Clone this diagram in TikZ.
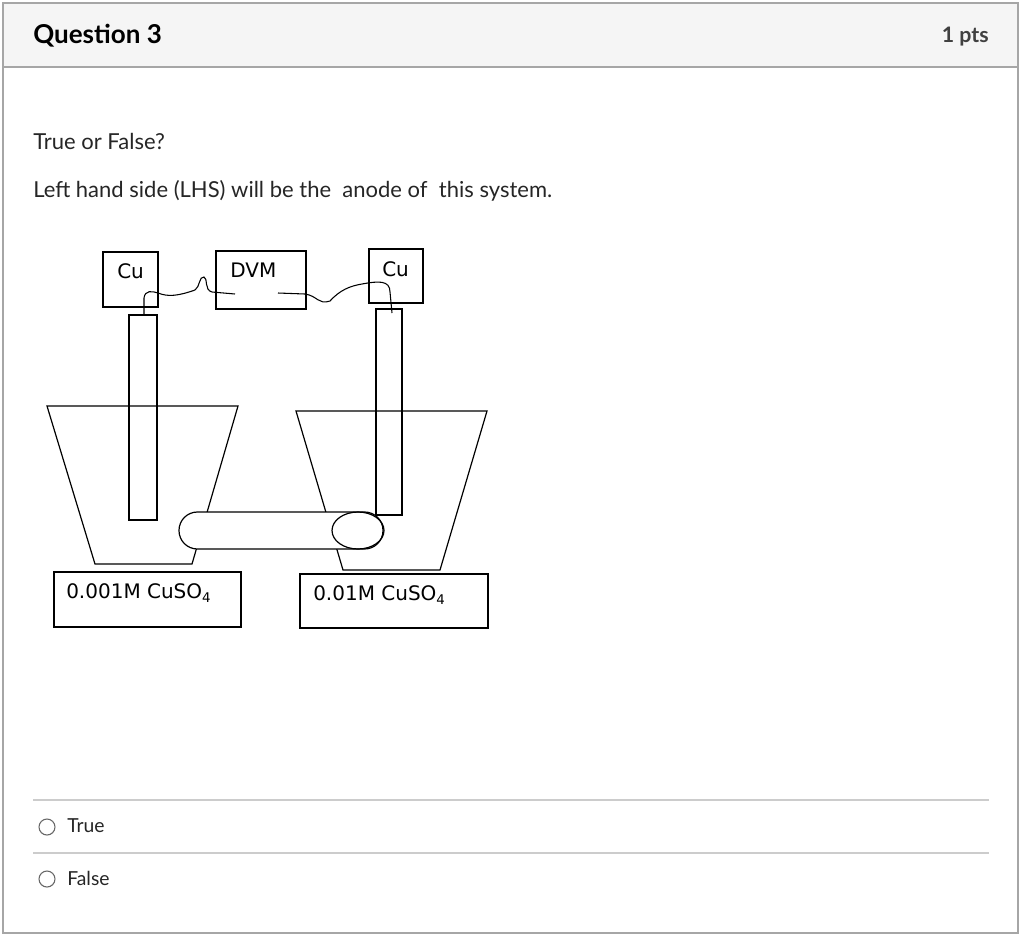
\documentclass[tikz,border=0pt]{standalone}
\usepackage{fontspec}
\setmainfont{Lato}
\newfontfamily\comic{DejaVu Sans}
\newcommand{\subfour}{\raisebox{-0.35ex}{\fontsize{10}{11}\selectfont 4}}
\begin{document}
\begin{tikzpicture}[x=0.75pt,y=-0.75pt,
  ln/.style={draw=black,line width=0.9pt},
  lbl/.style={font=\comic\fontsize{15}{17}\selectfont,anchor=west,inner sep=0},
  body/.style={font=\fontsize{16.5}{19}\selectfont,anchor=west,inner sep=0,text=black!85}]
\useasboundingbox (0,0) rectangle (1024,943);
\fill[white] (0,0) rectangle (1024,943);
\fill[black!4] (3,3) rectangle (1018,67);
\draw[black!35,line width=0.8pt] (3,3) rectangle (1018,933);
\draw[black!35,line width=0.8pt] (3,67) -- (1018,67);
\node[font=\bfseries\fontsize{19.5}{21}\selectfont,anchor=west,inner sep=0] (title) at (33,36) {Question 3};
\node[font=\bfseries\fontsize{16}{18}\selectfont,anchor=east,inner sep=0,text=black!75] (pts) at (989,37) {1 pts};
\node[body] (q1) at (33,141) {True or False?};
\node[body] (q2) at (33,191) {Left hand side (LHS) will be the\ \ anode of\ \ this system.};
% beakers
\draw[ln] (47,406) -- (238,406) -- (192,564) -- (95,564) -- cycle;
\draw[ln] (296,411) -- (487,411) -- (440,570) -- (343,570) -- cycle;
% electrodes
\draw[ln] (129,315) rectangle (157,520);
\draw[ln] (376,309) rectangle (402,515);
% salt bridge
\draw[ln,fill=white,rounded corners=13.8pt] (179,512) rectangle (383,549);
\draw[ln] (358,530.5) ellipse (26 and 18.5);
% boxes
\node[draw,ln,minimum width=55*0.75pt,minimum height=55*0.75pt,inner sep=0] (cuL) at (130.5,279.5) {};
\node[lbl] at (117,271) {Cu};
\node[draw,ln,minimum width=90*0.75pt,minimum height=58*0.75pt,inner sep=0] (dvm) at (261,280) {};
\node[lbl] at (230,270) {DVM};
\node[draw,ln,minimum width=54*0.75pt,minimum height=54*0.75pt,inner sep=0] (cuR) at (396,276) {};
\node[lbl] at (382,269) {Cu};
% wires
\draw[line width=0.8pt] (144,314) -- (144,298) .. controls (145,290) and (152,291) .. (158,293)
  .. controls (168,297) and (178,296) .. (195,290) .. controls (200,287) and (199,276) .. (204,277)
  .. controls (208,278) and (204,290) .. (212,292) -- (235,294);
\draw[line width=0.8pt] (278,293) -- (305,294) .. controls (318,296) and (318,305) .. (330,301)
  .. controls (340,290) and (350,286) .. (362,284) .. controls (378,281) and (390,280) .. (390,292) -- (392,313);
% labels
\node[draw,ln,minimum width=187*0.75pt,minimum height=55*0.75pt,inner sep=0] (lab1) at (147.5,599.5) {};
\node[lbl] at (66,593) {0.001M CuSO\subfour};
\node[draw,ln,minimum width=188*0.75pt,minimum height=54*0.75pt,inner sep=0] (lab2) at (394,601) {};
\node[lbl] at (313,595) {0.01M CuSO\subfour};
% answers
\draw[black!20,line width=0.8pt] (33,800) -- (989,800);
\draw[black!20,line width=0.8pt] (33,853) -- (989,853);
\draw[black!60,line width=0.8pt] (47,827) circle (8);
\draw[black!60,line width=0.8pt] (47,879) circle (8);
\node[body,font=\fontsize{14.5}{16}\selectfont] (t) at (67,826) {True};
\node[body,font=\fontsize{14.5}{16}\selectfont] (f) at (67,878) {False};
\end{tikzpicture}
\end{document}
